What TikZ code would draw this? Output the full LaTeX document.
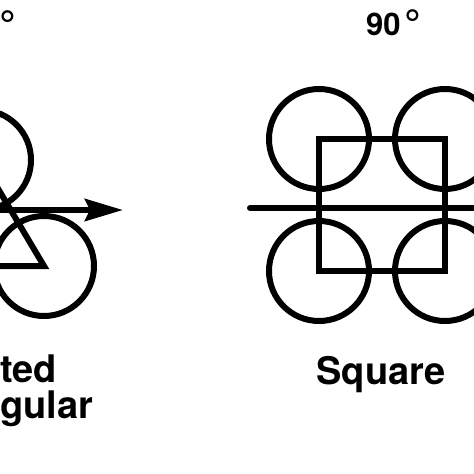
\documentclass[tikz,border=0pt]{standalone}
\usepackage{fontspec}
\setmainfont{TeX Gyre Heros}
\usetikzlibrary{arrows.meta}
\newcommand{\bigdeg}{\raisebox{-4pt}{\fontsize{42}{42}\selectfont°}}
\tikzset{
  ring/.style={draw=black, line width=6pt},
  bar/.style={draw=black, line width=6pt},
  lbl/.style={font=\fontsize{38}{40}\selectfont\bfseries, inner sep=0pt},
  ang/.style={font=\fontsize{31}{34}\selectfont\bfseries, inner sep=0pt}
}
\begin{document}
\begin{tikzpicture}[x=1pt,y=-1pt]
\useasboundingbox (0,0) rectangle (474,474);
\clip (0,0) rectangle (474,474);
% ---------- left figure (rotated triangular) ----------
\coordinate (ta) at (-19,160);
\coordinate (tb) at (44,266);
\coordinate (tc) at (-80,266);
\draw[ring] (ta) circle (50);
\draw[ring] (tb) circle (50);
\draw[ring] (tc) circle (50);
\draw[bar, line join=miter] (ta) -- (tb) -- (tc) -- cycle;
\coordinate (as) at (-150,210);
\coordinate (ae) at (123,210);
\draw[bar, -{Stealth[length=38pt,width=22pt,inset=5pt]}] (as) -- (ae);
\node[ang, anchor=base west] (dl) at (-1,36) {\bigdeg};
\node[lbl, anchor=base west] (l1) at (0,382) {ted};
\node[lbl, anchor=base west] (l2) at (0,418) {gular};
% ---------- right figure (square) ----------
\coordinate (s1) at (319,139);
\coordinate (s2) at (445,139);
\coordinate (s3) at (319,271);
\coordinate (s4) at (445,271);
\draw[ring] (s1) circle (50);
\draw[ring] (s2) circle (50);
\draw[ring] (s3) circle (50);
\draw[ring] (s4) circle (50);
\draw[bar, line join=miter] (s1) rectangle (s4);
\coordinate (hs) at (250,208);
\coordinate (he) at (520,208);
\draw[bar, line cap=round] (hs) -- (he);
\node[ang, anchor=base west] (a90) at (366,35) {90\hspace{4pt}\bigdeg};
\node[lbl, anchor=base] (sq) at (381,384) {Square};
\end{tikzpicture}
\end{document}
